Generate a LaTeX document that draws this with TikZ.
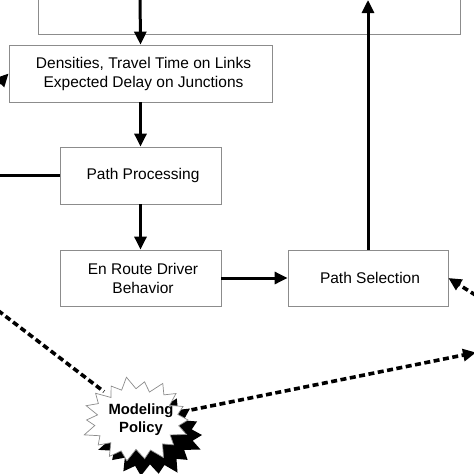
\documentclass[tikz,border=0pt]{standalone}
\usepackage{fontspec}
\setmainfont{Liberation Sans}
\usetikzlibrary{arrows.meta,shapes.geometric}
\begin{document}
\begin{tikzpicture}[x=1pt,y=-1pt,
  box/.style={draw=black!45,line width=0.8pt,fill=white,align=center,
    font=\fontsize{15.5}{19}\selectfont,inner sep=0pt},
  arr/.style={line width=3pt,-{Triangle[length=13pt,width=12pt]}},
  plain/.style={line width=3pt},
  dsh/.style={line width=3.6pt,dash pattern=on 6pt off 3.5pt},
  dsharr/.style={dsh,-{Triangle[length=13pt,width=12pt]}},
]
\useasboundingbox (0,0) rectangle (474,474);
\clip (0,0) rectangle (474,474);

% boxes
\node[box,minimum width=422pt,minimum height=54pt] (top) at (249,7) {};
\node[box,minimum width=263pt,minimum height=57pt] (dens) at (140.5,73.5)
  {\hspace*{6pt}Densities, Travel Time on Links\\\hspace*{6pt}Expected Delay on Junctions};
\node[box,minimum width=161pt,minimum height=57pt] (pp) at (140.5,175.5) {\hspace*{5pt}Path Processing};
\node[box,minimum width=161pt,minimum height=56pt] (er) at (140.5,278) {\hspace*{5pt}En Route Driver\\\hspace*{5pt}Behavior};
\node[box,minimum width=160pt,minimum height=56pt] (ps) at (368,278) {\hspace*{4pt}Path Selection};

% starburst with shadow
\begin{scope}[shift={(150,435)}]
  \fill[black] (52,0) \foreach \i in {1,...,35}{
    -- ({ifthenelse(mod(\i,2)==0,52,41)*(1+0.06*sin(\i*73))*cos(\i*10)},
        {ifthenelse(mod(\i,2)==0,41,31)*(1+0.06*sin(\i*73))*sin(\i*10)}) } -- cycle;
\end{scope}
\begin{scope}[shift={(136,420)}]
  \filldraw[fill=white,draw=black!45,line width=0.7pt] (52,0) \foreach \i in {1,...,35}{
    -- ({ifthenelse(mod(\i,2)==0,52,41)*(1+0.06*sin(\i*73))*cos(\i*10)},
        {ifthenelse(mod(\i,2)==0,41,31)*(1+0.06*sin(\i*73))*sin(\i*10)}) } -- cycle;
\end{scope}
\node[ellipse,minimum width=104pt,minimum height=80pt,inner sep=0pt,align=center,
  font=\bfseries\fontsize{14.8}{18}\selectfont] (mp) at (141,420) {Modeling\\Policy};

% free ends
\coordinate (inA) at (140,-6);
\coordinate (outB) at (368,0);
\coordinate (lft) at (-2,175.5);
\coordinate (lfa) at (-14,97);
\coordinate (rtA) at (492,305.5);
\coordinate (rtB) at (476,352.5);
\coordinate (lfB) at (-2,310.5);

% connectors
\draw[arr] (inA) -- (dens.north);
\draw[arr] (ps.north) -- (outB);
\draw[arr] (dens.south) -- (pp.north);
\draw[arr] (pp.south) -- (er.north);
\draw[arr] (er.east) -- (ps.west);
\draw[plain] (lft) -- (pp.west);
\draw[arr] (lfa) -- (dens.west);
\draw[dsharr] (rtA) -- (ps.east);
\draw[dsharr] (mp) -- (rtB);
\draw[dsh] (lfB) -- (mp);
\end{tikzpicture}
\end{document}
